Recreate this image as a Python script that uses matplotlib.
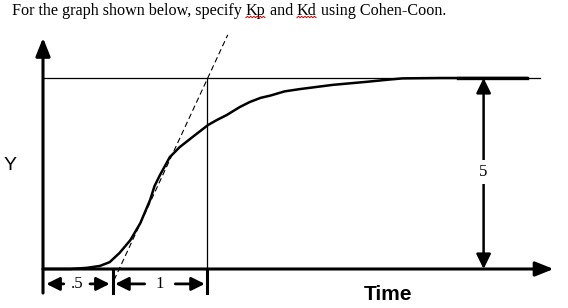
import matplotlib.pyplot as plt
from matplotlib.lines import Line2D

# step response (time units, output units)
t_curve = [0, 0.25, 0.40, 0.52, 0.61, 0.70, 0.80, 0.89, 0.98, 1.02, 1.07, 1.12, 1.16, 1.25,
           1.37, 1.51, 1.59, 1.68, 1.80, 1.89, 1.99, 2.08, 2.21, 2.35, 2.65, 2.96, 3.17, 3.29,
           3.63, 4.43]
y_curve = [0, 0, 0.03, 0.08, 0.18, 0.42, 0.76, 1.20, 1.81, 2.17, 2.46, 2.72, 2.93, 3.19,
           3.46, 3.77, 3.90, 4.03, 4.24, 4.37, 4.48, 4.54, 4.65, 4.71, 4.82, 4.90, 4.96, 4.99,
           5.0, 5.0]

# tangent at inflection point
tan_t = [0.65, 1.69]
tan_y = [-0.29, 6.13]

steady = 5
t_tan_cross = 0.64   # where dead time ends
t_ss_cross = 1.5     # tangent meets steady state
dead_label = ".5"
tau_label = "1"
gain_label = "5"

title_parts = ["For the graph shown below, specify ", "Kp", " and ", "Kd", " using Cohen-Coon."]

# pixel scale of the sketch
X0, SX = 43, 109.33
Y0, SY = 269, 38.2

fig = plt.figure(figsize=(5.68, 3.08), dpi=100)
ax = fig.add_axes([0, 0, 1, 1])
ax.set_xlim(-X0 / SX, (568 - X0) / SX)
ax.set_ylim(-(308 - Y0) / SY, Y0 / SY)
ax.axis('off')

ybot = -0.63
big = dict(arrowstyle='-|>,head_length=0.55,head_width=0.22', color='k', lw=2.2,
           mutation_scale=20, shrinkA=0, shrinkB=0)
small = dict(arrowstyle='-|>,head_length=0.4,head_width=0.2', color='k', lw=2.0,
             mutation_scale=20, shrinkA=0, shrinkB=0)

# axes
ax.annotate('', xy=(0, 6.05), xytext=(0, ybot), arrowprops=big)
ax.annotate('', xy=(4.67, 0), xytext=(0, 0), arrowprops=big)

# steady-state line and vertical at tangent crossing
ax.plot([0, 4.55], [steady, steady], color='k', lw=0.9)
ax.plot([t_ss_cross, t_ss_cross], [0, steady], color='k', lw=0.9)
ax.plot([t_ss_cross, t_ss_cross], [ybot, 0], color='k', lw=2.2)
ax.plot([t_tan_cross, t_tan_cross], [ybot, 0], color='k', lw=2.2)

# tangent and curve
ax.plot(tan_t, tan_y, color='k', lw=0.8, ls=(0, (5, 3)))
ax.plot(t_curve, y_curve, color='k', lw=1.8, solid_capstyle='round', solid_joinstyle='round')
ax.plot([3.8, 4.43], [steady, steady], color='k', lw=2.4)

# dimension arrows below axis
ya = -0.39
ax.annotate('', xy=(0.03, ya), xytext=(0.19, ya), arrowprops=small)
ax.annotate('', xy=(0.61, ya), xytext=(0.43, ya), arrowprops=small)
ax.text(0.31, ya, dead_label, ha='center', va='center', fontsize=12, family='Liberation Serif')
ax.annotate('', xy=(0.66, ya), xytext=(0.93, ya), arrowprops=small)
ax.annotate('', xy=(1.48, ya), xytext=(1.21, ya), arrowprops=small)
ax.text(1.07, ya, tau_label, ha='center', va='center', fontsize=12, family='Liberation Serif')

# gain arrow
xg = 4.03
dbl = dict(small)
dbl['arrowstyle'] = '<|-|>,head_length=0.45,head_width=0.22'
dbl['lw'] = 1.8
ax.annotate('', xy=(xg, 0), xytext=(xg, steady), arrowprops=dbl)
ax.text(xg, 2.54, gain_label, ha='center', va='center', fontsize=12, family='Liberation Serif',
        bbox=dict(facecolor='white', edgecolor='none', pad=3))

# labels
ax.text(-0.30, 2.72, 'Y', ha='center', va='center', fontsize=14, family='Liberation Sans')
ax.text(3.16, -0.66, 'Time', ha='center', va='center', fontsize=15, fontweight='bold',
        family='Liberation Sans')

# title, built piecewise so the spell-check squiggles can sit under Kp and Kd
prev = fig.text(12 / 568, 1 - 15 / 308, title_parts[0], fontsize=11.6, family='Liberation Serif',
                va='baseline')
pieces = [prev]
for p in title_parts[1:]:
    prev = ax.annotate(p, xy=(1, 0), xycoords=prev, va='bottom', fontsize=11.6,
                       family='Liberation Serif')
    pieces.append(prev)

fig.canvas.draw()
for txt in (pieces[1], pieces[3]):
    bb = txt.get_window_extent()
    xs, ys = [], []
    x = bb.x0
    k = 0
    while x <= bb.x1:
        xs.append(x)
        ys.append(bb.y0 + 1.5 + (1.2 if k % 2 else -0.2))
        x += 1.6
        k += 1
    fig.add_artist(Line2D(xs, ys, transform=None, color='#d00000', lw=0.7))

fig.savefig('out.png', dpi=100)
